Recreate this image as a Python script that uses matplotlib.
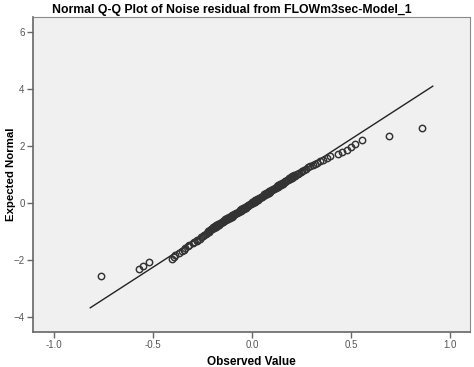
import matplotlib
matplotlib.use("Agg")
import matplotlib.pyplot as plt

plt.rcParams['font.family'] = ['Liberation Sans', 'DejaVu Sans']

# observed residuals (x) vs expected normal values (y)
# lower tail
obs_low = [-0.762, -0.568, -0.548, -0.522, -0.405, -0.395, -0.388, -0.370,
           -0.352, -0.345, -0.338, -0.322, -0.318, -0.300, -0.292, -0.280,
           -0.275, -0.262, -0.258, -0.246, -0.240, -0.232, -0.226, -0.218]
exp_low = [-2.56, -2.33, -2.20, -2.08, -1.98, -1.90, -1.82, -1.76,
           -1.70, -1.64, -1.58, -1.52, -1.47, -1.42, -1.37, -1.33,
           -1.29, -1.25, -1.21, -1.17, -1.13, -1.10, -1.06, -1.03]

# dense middle band
obs_mid = [-0.215, -0.222, -0.210, -0.214, -0.200, -0.205, -0.192, -0.196,
           -0.183, -0.188, -0.175, -0.180, -0.166, -0.170, -0.157, -0.162,
           -0.148, -0.152, -0.139, -0.144, -0.130, -0.135, -0.121, -0.126,
           -0.112, -0.117, -0.103, -0.108, -0.094, -0.099, -0.085, -0.090,
           -0.076, -0.081, -0.067, -0.072, -0.058, -0.063, -0.049, -0.054,
           -0.040, -0.045, -0.031, -0.036, -0.022, -0.027, -0.013, -0.018,
           -0.004, -0.009, 0.005, 0.000, 0.014, 0.009, 0.022, 0.017,
           0.031, 0.026, 0.040, 0.035, 0.049, 0.044, 0.058, 0.053,
           0.067, 0.062, 0.075, 0.070, 0.084, 0.079, 0.093, 0.088,
           0.102, 0.097, 0.111, 0.106, 0.120, 0.115, 0.129, 0.124,
           0.138, 0.133, 0.147, 0.142, 0.156, 0.151, 0.164, 0.159,
           0.173, 0.168, 0.182, 0.177, 0.191, 0.186, 0.200, 0.195,
           0.209, 0.204, 0.218, 0.213, 0.227]
exp_mid = [-1.00, -0.98, -0.96, -0.94, -0.92, -0.90, -0.88, -0.86,
           -0.84, -0.82, -0.80, -0.78, -0.76, -0.74, -0.72, -0.70,
           -0.68, -0.66, -0.64, -0.62, -0.60, -0.58, -0.56, -0.54,
           -0.52, -0.50, -0.48, -0.46, -0.44, -0.42, -0.40, -0.38,
           -0.36, -0.34, -0.32, -0.30, -0.28, -0.26, -0.24, -0.22,
           -0.20, -0.18, -0.16, -0.14, -0.12, -0.10, -0.08, -0.06,
           -0.04, -0.02, 0.00, 0.02, 0.04, 0.06, 0.08, 0.10,
           0.12, 0.14, 0.16, 0.18, 0.20, 0.22, 0.24, 0.26,
           0.28, 0.30, 0.32, 0.34, 0.36, 0.38, 0.40, 0.42,
           0.44, 0.46, 0.48, 0.50, 0.52, 0.54, 0.56, 0.58,
           0.60, 0.62, 0.64, 0.66, 0.68, 0.70, 0.72, 0.74,
           0.76, 0.78, 0.80, 0.82, 0.84, 0.86, 0.88, 0.90,
           0.92, 0.94, 0.96, 0.98, 1.00]

# upper tail
obs_high = [0.232, 0.238, 0.246, 0.253, 0.262, 0.272, 0.282, 0.294,
            0.306, 0.318, 0.330, 0.345, 0.360, 0.378, 0.393, 0.435,
            0.455, 0.477, 0.500, 0.519, 0.553, 0.692, 0.858]
exp_high = [1.03, 1.06, 1.10, 1.13, 1.17, 1.21, 1.25, 1.29,
            1.33, 1.37, 1.42, 1.47, 1.52, 1.58, 1.65, 1.72,
            1.78, 1.86, 1.95, 2.07, 2.21, 2.36, 2.62]

# reference line
line_x = [-0.816, 0.912]
line_y = [-3.68, 4.10]

xticks = [-1.0, -0.5, 0.0, 0.5, 1.0]
yticks = [-4, -2, 0, 2, 4, 6]

obs = obs_low + obs_mid + obs_high
expected = exp_low + exp_mid + exp_high

fig = plt.figure(figsize=(4.74, 3.67), dpi=100)
ax = fig.add_axes([0.0696, 0.0954, 0.9220, 0.8583])
ax.set_facecolor('#f0f0f0')

ax.plot(line_x, line_y, color='#222222', lw=1.0)
ax.plot(obs, expected, 'o', ms=4.6, mfc='none', mec='#333333', mew=1.05)

ax.set_xlim(-1.105, 1.10)
ax.set_ylim(-4.53, 6.53)
ax.set_xticks(xticks)
ax.set_xticklabels(['%.1f' % t for t in xticks])
ax.set_yticks(yticks)

for s in ax.spines.values():
    s.set_color('#8a8a8a')
    s.set_linewidth(0.8)
ax.spines['left'].set_color('#666666')
ax.spines['bottom'].set_color('#666666')
ax.spines['left'].set_linewidth(1.2)
ax.spines['bottom'].set_linewidth(1.2)

ax.tick_params(direction='out', length=4, width=1, color='#666666',
               labelsize=7, labelcolor='#555555', pad=2)

ax.set_xlabel('Observed Value', fontsize=8.5, fontweight='bold', labelpad=4)
ax.set_ylabel('Expected Normal', fontsize=8.2, fontweight='bold')
ax.yaxis.set_label_coords(-0.040, 0.5)
fig.text(0.49, 0.99, 'Normal Q-Q Plot of Noise residual from FLOWm3sec-Model_1',
         ha='center', va='top', fontsize=8.8, fontweight='bold')

fig.savefig('out.png', dpi=100, facecolor='white')
